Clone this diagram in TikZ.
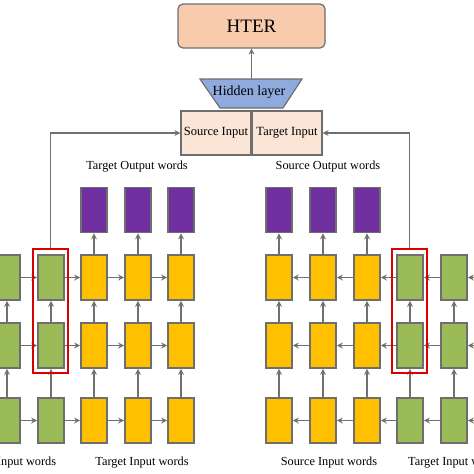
\documentclass[tikz,border=0pt]{standalone}
\usepackage{fontspec}
\setmainfont{Liberation Serif}
\usetikzlibrary{arrows.meta, positioning}

\definecolor{boxgray}{HTML}{6E6E6E}
\definecolor{linkgray}{HTML}{707070}
\definecolor{cellgreen}{HTML}{9BBB59}
\definecolor{cellyellow}{HTML}{FFC000}
\definecolor{cellpurple}{HTML}{7030A0}
\definecolor{hterfill}{HTML}{F8CBAD}
\definecolor{inputfill}{HTML}{FBE5D6}
\definecolor{hiddenfill}{HTML}{8FAADC}

\tikzset{
	cell/.style={draw=boxgray, line width=1.6pt, minimum width=26pt, minimum height=45pt, inner sep=0pt},
	greencell/.style={cell, fill=cellgreen},
	yellowcell/.style={cell, fill=cellyellow},
	purplecell/.style={cell, fill=cellpurple},
	link/.style={draw=linkgray, line width=1.5pt, -{Stealth[length=6pt, width=6pt]}},
	wordlabel/.style={font=\fontsize{12.3}{14}\selectfont, inner sep=0pt},
	inbox/.style={draw=boxgray, line width=1.2pt, fill=inputfill, minimum width=70pt, minimum height=44pt, inner sep=0pt, font=\fontsize{12.5}{14}\selectfont},
	redframe/.style={draw=red!85!black, line width=1.6pt, minimum width=35pt, minimum height=124pt, inner sep=0pt}
}

\begin{document}
\begin{tikzpicture}[x=1pt, y=-1pt]
	\useasboundingbox (0,0) rectangle (474,474);
	\clip (0,0) rectangle (474,474);

	% top part
	\node[draw=boxgray, line width=1.2pt, fill=hterfill, rounded corners=5pt, minimum width=147pt, minimum height=44pt, font=\fontsize{19}{21}\selectfont] (hter) at (251.5,26) {HTER};
	\filldraw[draw=boxgray, line width=1.2pt, fill=hiddenfill] (200,79) -- (302,79) -- (283,108) -- (220,108) -- cycle;
	\node[font=\fontsize{14}{16}\selectfont, inner sep=0pt] (hid) at (249,92) {Hidden layer};
	\coordinate (hidtop) at (251.5,79);
	\node[inbox] (srcin) at (216,133) {Source Input};
	\node[inbox] (tgtin) at (287,133) {Target Input};
	\draw[link] (hidtop) -- (hter.south);

	% left network
	\foreach \r/\y in {1/277.5, 2/345.5, 3/420.5}
	{
		\node[greencell] (l\r-1) at (7,\y) {};
		\node[greencell] (l\r-2) at (51,\y) {};
		\node[yellowcell] (l\r-3) at (94,\y) {};
		\node[yellowcell] (l\r-4) at (138,\y) {};
		\node[yellowcell] (l\r-5) at (181,\y) {};
	}
	\foreach \c/\x in {3/94, 4/138, 5/181}
	{
		\node[purplecell] (lo-\c) at (\x,210) {};
		\draw[link] (l1-\c.north) -- (lo-\c.south);
	}
	\foreach \r in {1,2,3}
	{
		\foreach \c [evaluate=\c as \n using int(\c+1)] in {1,...,4}
		{
			\draw[link] (l\r-\c.east) -- (l\r-\n.west);
		}
	}
	\foreach \c in {1,...,5}
	{
		\draw[link] (l3-\c.north) -- (l2-\c.south);
		\draw[link] (l2-\c.north) -- (l1-\c.south);
	}

	% right network
	\foreach \r/\y in {1/277.5, 2/345.5, 3/420.5}
	{
		\node[yellowcell] (r\r-1) at (279,\y) {};
		\node[yellowcell] (r\r-2) at (323,\y) {};
		\node[yellowcell] (r\r-3) at (367,\y) {};
		\node[greencell] (r\r-4) at (410,\y) {};
		\node[greencell] (r\r-5) at (454,\y) {};
		\coordinate (r\r-in) at (490,\y);
		\draw[link] (r\r-in) -- (r\r-5.east);
	}
	\foreach \c/\x in {1/279, 2/323, 3/367}
	{
		\node[purplecell] (ro-\c) at (\x,210) {};
		\draw[link] (r1-\c.north) -- (ro-\c.south);
	}
	\foreach \r in {1,2,3}
	{
		\foreach \c [evaluate=\c as \n using int(\c+1)] in {1,...,4}
		{
			\draw[link] (r\r-\n.west) -- (r\r-\c.east);
		}
	}
	\foreach \c in {1,...,5}
	{
		\draw[link] (r3-\c.north) -- (r2-\c.south);
		\draw[link] (r2-\c.north) -- (r1-\c.south);
	}

	% highlighted states
	\node[redframe] (redl) at (50.5,311) {};
	\node[redframe] (redr) at (409.5,311) {};
	\draw[link] (redl.north) |- (srcin.west);
	\draw[link] (redr.north) |- (tgtin.east);

	% labels
	\node[wordlabel] (tgtout) at (137,167) {Target Output words};
	\node[wordlabel] (srcout) at (328,167) {Source Output words};
	\node[wordlabel] (srcwl) at (8,463) {Source Input words};
	\node[wordlabel] (tgtwl) at (142,463) {Target Input words};
	\node[wordlabel] (srcwr) at (329,463) {Source Input words};
	\node[wordlabel, anchor=west] (tgtwr) at (408,463) {Target Input words};
\end{tikzpicture}
\end{document}
